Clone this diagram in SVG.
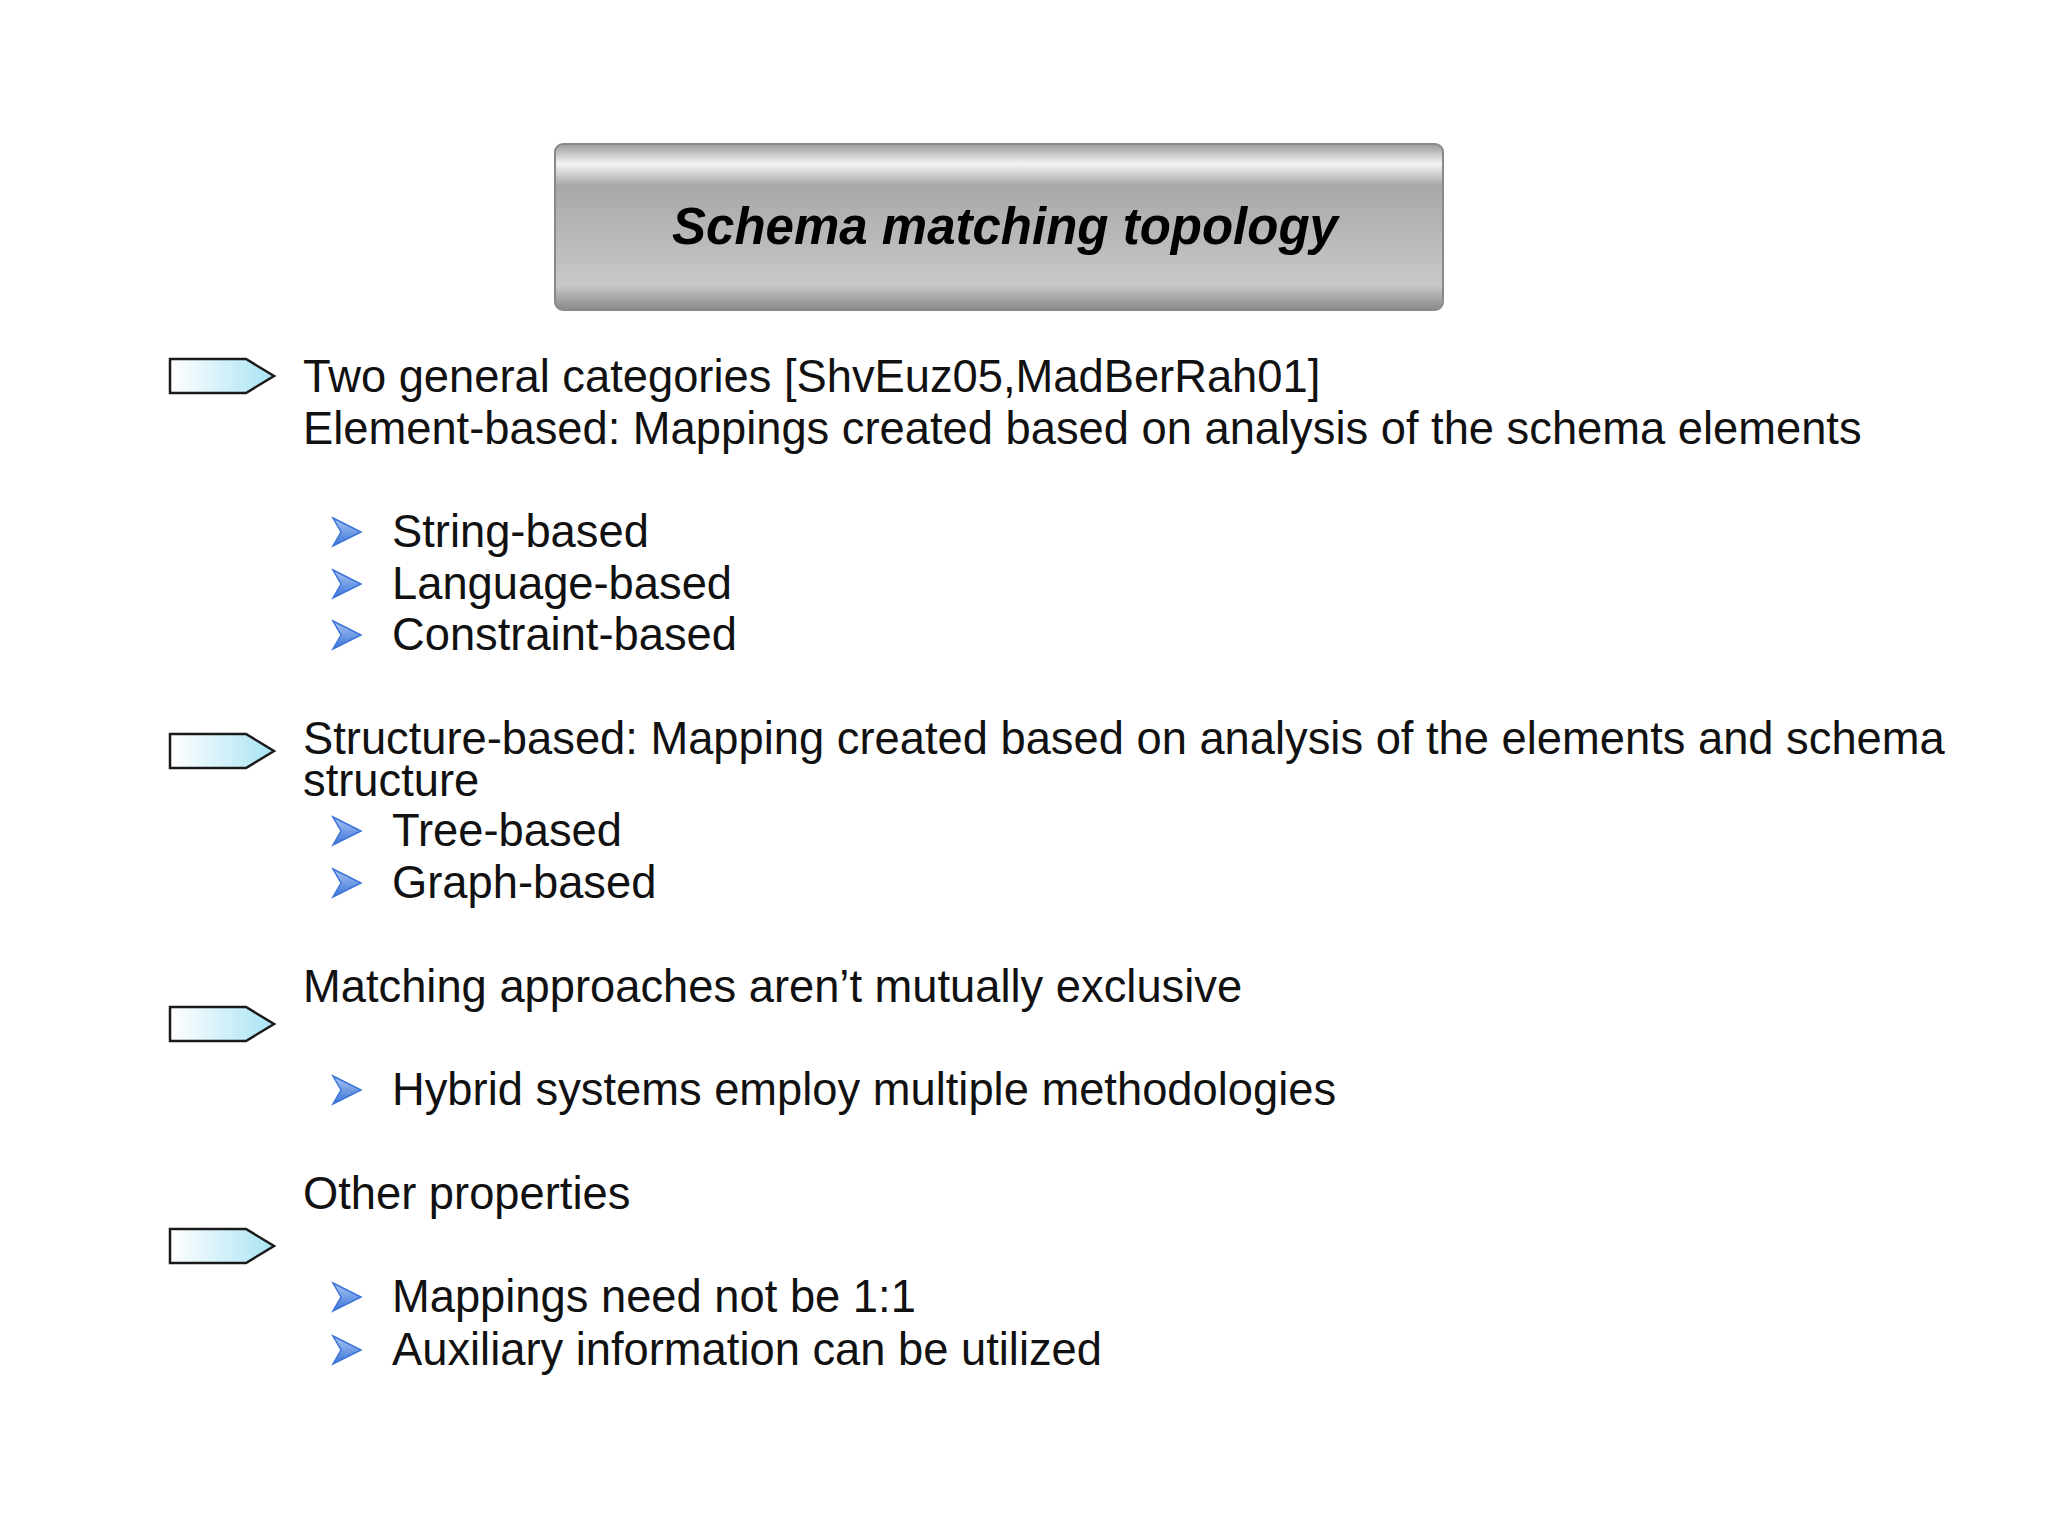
<svg xmlns="http://www.w3.org/2000/svg" width="2048" height="1536" viewBox="0 0 2048 1536">
<defs>
<linearGradient id="tg" x1="0" y1="0" x2="0" y2="1">
<stop offset="0" stop-color="#9a9a9a"/><stop offset="0.12" stop-color="#f4f4f4"/><stop offset="0.25" stop-color="#a8a8a8"/><stop offset="0.85" stop-color="#c8c8c8"/><stop offset="1" stop-color="#8a8a8a"/>
</linearGradient>
<linearGradient id="ag" x1="0" y1="0" x2="1" y2="0">
<stop offset="0" stop-color="#ffffff"/><stop offset="1" stop-color="#a8e4f4"/>
</linearGradient>
<linearGradient id="bg" x1="0" y1="0" x2="0" y2="1">
<stop offset="0" stop-color="#a9c6f2"/><stop offset="1" stop-color="#3b74d8"/>
</linearGradient>
<path id="big" d="M0,0 H76 L104,17 L76,34 H0 Z" fill="url(#ag)" stroke="#1a1a1a" stroke-width="2.5"/>
<path id="sm" d="M0,0 L28,14 L0,28 L8,14 Z" fill="url(#bg)" stroke="#3b74d8" stroke-width="1.5"/>
</defs>
<style>
text{font-family:"Liberation Sans",Arial,sans-serif;font-size:45.3px;fill:#111}
.t{font-size:51px;font-weight:bold;font-style:italic;text-anchor:middle;fill:#000}
</style>
<rect width="2048" height="1536" fill="#fff"/>
<g id="title">
<rect x="555" y="144" width="888" height="166" rx="8" fill="url(#tg)" stroke="#8a8a8a" stroke-width="2"/>
<text class="t" x="1005" y="244">Schema matching topology</text>
</g>
<g id="arrows">
<use href="#big" x="170" y="359"/>
<use href="#big" x="170" y="734"/>
<use href="#big" x="170" y="1007"/>
<use href="#big" x="170" y="1229"/>
<use href="#sm" x="333" y="518"/>
<use href="#sm" x="333" y="570"/>
<use href="#sm" x="333" y="621"/>
<use href="#sm" x="333" y="817"/>
<use href="#sm" x="333" y="869"/>
<use href="#sm" x="333" y="1076"/>
<use href="#sm" x="333" y="1283"/>
<use href="#sm" x="333" y="1336"/>
</g>
<g id="text">
<text x="303" y="392">Two general categories [ShvEuz05,MadBerRah01]</text>
<text x="303" y="444">Element-based: Mappings created based on analysis of the schema elements</text>
<text x="392" y="547">String-based</text>
<text x="392" y="599">Language-based</text>
<text x="392" y="650">Constraint-based</text>
<text x="303" y="754">Structure-based: Mapping created based on analysis of the elements and schema</text>
<text x="303" y="796">structure</text>
<text x="392" y="846">Tree-based</text>
<text x="392" y="898">Graph-based</text>
<text x="303" y="1002">Matching approaches aren’t mutually exclusive</text>
<text x="392" y="1105">Hybrid systems employ multiple methodologies</text>
<text x="303" y="1209">Other properties</text>
<text x="392" y="1312">Mappings need not be 1:1</text>
<text x="392" y="1365">Auxiliary information can be utilized</text>
</g>
</svg>
